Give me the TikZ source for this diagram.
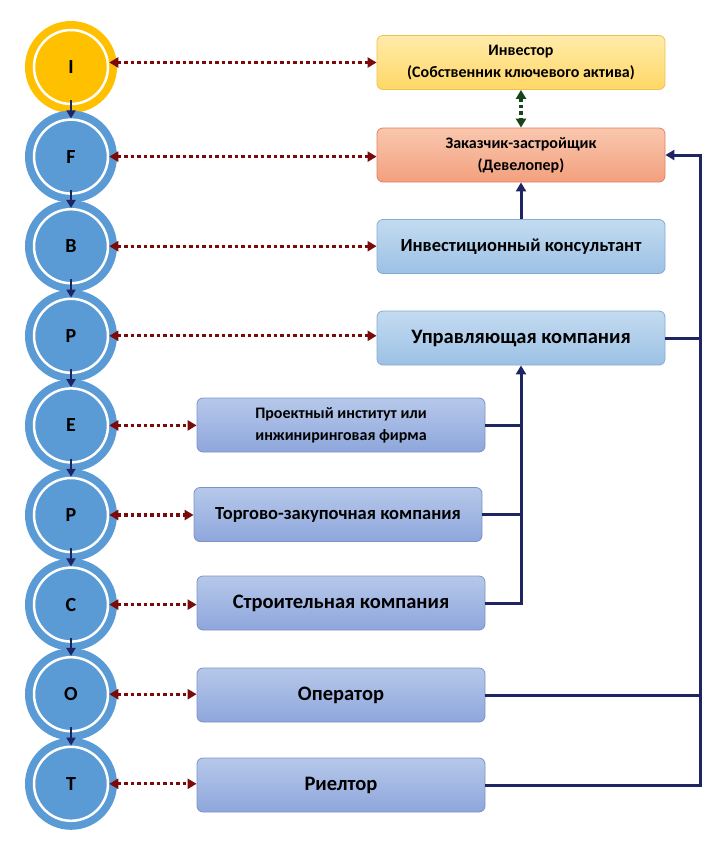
\documentclass[tikz,border=0pt]{standalone}
\usepackage{fontspec}
\setmainfont{Carlito}
\usepackage{xcolor}
\usepackage{tikz}
\usetikzlibrary{arrows.meta, positioning, calc, shapes.geometric}
\definecolor{ringblue}{HTML}{5B9BD5}
\definecolor{ringgold}{HTML}{FFC000}
\definecolor{linknavy}{HTML}{1F2463}
\definecolor{linkred}{HTML}{7B0A0A}
\definecolor{linkgreen}{HTML}{17451A}
\definecolor{invtop}{HTML}{FFEBAA}
\definecolor{invbot}{HTML}{FFD766}
\definecolor{invedge}{HTML}{EFC24E}
\definecolor{devtop}{HTML}{F9C7AE}
\definecolor{devbot}{HTML}{F3A07E}
\definecolor{devedge}{HTML}{E4805F}
\definecolor{lbtop}{HTML}{C3DBF0}
\definecolor{lbbot}{HTML}{9CC1E5}
\definecolor{lbedge}{HTML}{86ABD3}
\definecolor{pwtop}{HTML}{B6C8EA}
\definecolor{pwbot}{HTML}{8EA6DB}
\definecolor{pwedge}{HTML}{7D93C6}

\begin{document}
\begin{tikzpicture}[x=1pt, y=-1pt,
    ring/.style={circle, minimum size=74pt, inner sep=0pt, fill=#1, draw=white, line width=2.5pt,
        preaction={draw=#1, line width=18pt}, font=\fontsize{20}{20}\selectfont\bfseries},
    card/.style={rectangle, rounded corners=6pt, minimum width=288pt, minimum height=54pt,
        align=center, font=\fontsize{16}{22}\selectfont\bfseries, line width=0.8pt},
    yellowcard/.style={card, draw=invedge, top color=invtop, bottom color=invbot},
    salmoncard/.style={card, draw=devedge, top color=devtop, bottom color=devbot},
    bluecard/.style={card, draw=lbedge, top color=lbtop, bottom color=lbbot},
    lilaccard/.style={card, draw=pwedge, top color=pwtop, bottom color=pwbot},
    midtext/.style={font=\fontsize{18.5}{22}\selectfont\bfseries},
    bigtext/.style={font=\fontsize{20.5}{22}\selectfont\bfseries},
    dotarrow/.style={{Triangle[length=9pt, width=10pt]}-{Triangle[length=9pt, width=10pt]},
        line width=3.2pt, dash pattern=on 3.5pt off 3pt, color=linkred},
    greenarrow/.style={dotarrow, color=linkgreen},
    navyline/.style={line width=3pt, color=linknavy},
    navyarrow/.style={navyline, -{Triangle[length=9pt, width=10pt]}},
    stackarrow/.style={line width=2.5pt, color=linknavy, -{Triangle[length=8pt, width=9pt]}}
]
\useasboundingbox (0,0) rectangle (724,847);

% Stage circles
\node[ring=ringgold] (cI) at (71,67) {I};
\node[ring=ringblue] (cF) at (71,156.6) {F};
\node[ring=ringblue] (cB) at (71,246.2) {B};
\node[ring=ringblue] (cP1) at (71,335.8) {P};
\node[ring=ringblue] (cE) at (71,425.4) {E};
\node[ring=ringblue] (cP2) at (71,515) {P};
\node[ring=ringblue] (cC) at (71,604.6) {C};
\node[ring=ringblue] (cO) at (71,694.2) {O};
\node[ring=ringblue] (cT) at (71,783.8) {T};

% Arrows down the chain
\draw[stackarrow, shorten <=-5pt] (cI.south) -- (cF.north);
\draw[stackarrow, shorten <=-5pt] (cF.south) -- (cB.north);
\draw[stackarrow, shorten <=-5pt] (cB.south) -- (cP1.north);
\draw[stackarrow, shorten <=-5pt] (cP1.south) -- (cE.north);
\draw[stackarrow, shorten <=-5pt] (cE.south) -- (cP2.north);
\draw[stackarrow, shorten <=-5pt] (cP2.south) -- (cC.north);
\draw[stackarrow, shorten <=-5pt] (cC.south) -- (cO.north);
\draw[stackarrow, shorten <=-5pt] (cO.south) -- (cT.north);

% Participants
\node[yellowcard] (inv) at (521,62.5) {Инвестор\\(Собственник ключевого актива)};
\node[salmoncard] (dev) at (521,155) {Заказчик-застройщик\\(Девелопер)};
\node[bluecard, midtext] (cons) at (521,246.5) {Инвестиционный консультант};
\node[bluecard, bigtext] (mgr) at (521,338) {Управляющая компания};
\node[lilaccard] (proj) at (341,425) {Проектный институт или\\инжиниринговая фирма};
\node[lilaccard, midtext] (trade) at (338,514.5) {Торгово-закупочная компания};
\node[lilaccard, bigtext] (build) at (341,603) {Строительная компания};
\node[lilaccard, bigtext] (oper) at (341,695) {Оператор};
\node[lilaccard, bigtext] (realt) at (341,785) {Риелтор};

% Stage to participant links
\draw[dotarrow] (cI.east |- inv.west) -- (inv.west);
\draw[dotarrow] (cF.east) -- (cF.east -| dev.west);
\draw[dotarrow] (cB.east) -- (cB.east -| cons.west);
\draw[dotarrow] (cP1.east) -- (cP1.east -| mgr.west);
\draw[dotarrow] (cE.east) -- (cE.east -| proj.west);
\draw[dotarrow] (cP2.east) -- (cP2.east -| trade.west);
\draw[dotarrow] (cC.east) -- (cC.east -| build.west);
\draw[dotarrow] (cO.east) -- (cO.east -| oper.west);
\draw[dotarrow] (cT.east) -- (cT.east -| realt.west);

\draw[greenarrow] (inv.south) -- (dev.north);

% Reporting lines
\draw[navyarrow] (cons.north) -- (dev.south);
\draw[navyline] (proj.east) -- (proj.east -| mgr.south);
\draw[navyline] (trade.east) -- (trade.east -| mgr.south);
\draw[navyarrow] (build.east) -| (mgr.south);

\coordinate (rbus) at (700,0);
\draw[navyline] (mgr.east) -- (mgr.east -| rbus);
\draw[navyline] (oper.east) -- (oper.east -| rbus);
\draw[navyarrow] (realt.east) -- (realt.east -| rbus) |- (dev.east);

\end{tikzpicture}
\end{document}
